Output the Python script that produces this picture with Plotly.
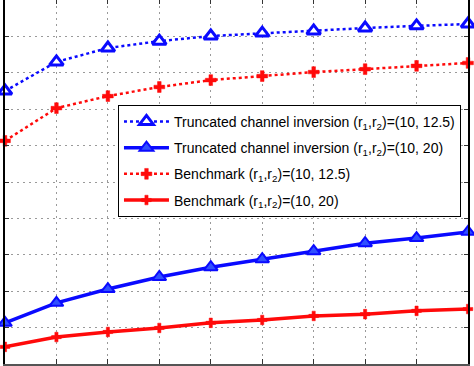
import plotly.graph_objects as go

x_vals = [0, 1, 2, 3, 4, 5, 6, 7, 8, 9]
tci_125 = [7.50, 8.30, 8.68, 8.87, 9.01, 9.09, 9.15, 9.23, 9.29, 9.34]
bench_125 = [6.13, 7.03, 7.36, 7.61, 7.80, 7.91, 8.02, 8.10, 8.19, 8.27]
tci_20 = [1.13, 1.68, 2.06, 2.39, 2.66, 2.88, 3.10, 3.32, 3.46, 3.63]
bench_20 = [0.47, 0.74, 0.88, 0.99, 1.13, 1.21, 1.32, 1.37, 1.46, 1.51]

names = [
    "Truncated channel inversion (r<sub>1</sub>,r<sub>2</sub>)=(10, 12.5)",
    "Truncated channel inversion (r<sub>1</sub>,r<sub>2</sub>)=(10, 20)",
    "Benchmark (r<sub>1</sub>,r<sub>2</sub>)=(10, 12.5)",
    "Benchmark (r<sub>1</sub>,r<sub>2</sub>)=(10, 20)",
]

BLUE = "#0a0aff"
RED = "#ff0a0a"

fig = go.Figure()
fig.add_trace(go.Scatter(
    x=x_vals, y=tci_125, name=names[0], legendgroup="g1", mode="lines+markers",
    line=dict(color=BLUE, width=2.5, dash="dot"),
    marker=dict(symbol="triangle-up", size=12, color="white",
                line=dict(color=BLUE, width=3)),
    cliponaxis=False))
fig.add_trace(go.Scatter(
    x=x_vals, y=tci_20, name=names[1], legendgroup="g2", mode="lines+markers",
    line=dict(color=BLUE, width=3.5),
    marker=dict(symbol="triangle-up", size=12, color="#3050ff",
                line=dict(color=BLUE, width=2)),
    cliponaxis=False))
fig.add_trace(go.Scatter(
    x=x_vals, y=bench_125, name=names[2], legendgroup="g3", mode="lines+markers",
    line=dict(color=RED, width=2.5, dash="dot"),
    marker=dict(symbol="cross", size=9, color=RED,
                line=dict(color=RED, width=0.5)),
    cliponaxis=False))
fig.add_trace(go.Scatter(
    x=x_vals, y=bench_20, name=names[3], legendgroup="g4", mode="lines+markers",
    line=dict(color=RED, width=3.5),
    marker=dict(symbol="cross", size=8, color=RED,
                line=dict(color=RED, width=0.5)),
    cliponaxis=False))

# invisible trace carrying the top and right tick marks
fig.add_trace(go.Scatter(x=x_vals, y=[None]*len(x_vals), xaxis="x2", yaxis="y2",
                         showlegend=False, hoverinfo="skip"))

GRID = "#9a9a9a"
fig.update_layout(
    width=474, height=366,
    margin=dict(l=5, r=6, t=0, b=2),
    paper_bgcolor="white", plot_bgcolor="white",
    font=dict(family="Arial, Liberation Sans, sans-serif", size=14, color="black"),
    xaxis=dict(range=[0, 9], dtick=1, showticklabels=False,
               showgrid=True, gridcolor=GRID, griddash="2px,4px", gridwidth=1,
               zeroline=False, showline=True, linecolor="#555555", linewidth=2.5,
               ticks="inside", ticklen=5, tickcolor="#333333"),
    xaxis2=dict(range=[0, 9], dtick=1, overlaying="x", side="top",
                showticklabels=False, showgrid=False, zeroline=False,
                showline=False, ticks="inside", ticklen=4, tickcolor="#333333"),
    yaxis=dict(range=[0, 10], dtick=1, showticklabels=False,
               showgrid=True, gridcolor=GRID, griddash="2px,4px", gridwidth=1,
               zeroline=False, showline=True, mirror=True, linecolor="black", linewidth=1.5,
               ticks="inside", ticklen=4, tickcolor="#333333"),
    yaxis2=dict(range=[0, 10], dtick=1, overlaying="y", side="right",
                showticklabels=False, showgrid=False, zeroline=False,
                showline=False, ticks="inside", ticklen=4, tickcolor="#333333"),
    legend=dict(x=0.244, y=0.712, xanchor="left", yanchor="top",
                bgcolor="white", bordercolor="black", borderwidth=1,
                itemwidth=45, font=dict(size=14), tracegroupgap=5,
                traceorder="grouped"),
    showlegend=True,
)

fig.write_html("out.html", config={"displayModeBar": False},
               post_script="document.body.style.margin='0';")
